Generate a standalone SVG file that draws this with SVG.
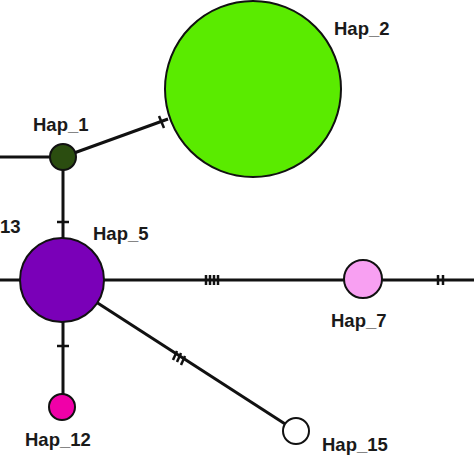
<svg xmlns="http://www.w3.org/2000/svg" width="474" height="474" viewBox="0 0 474 474">
<style>
.edge{stroke:#111;stroke-width:3;fill:none}
.tick{stroke:#111;stroke-width:2.5;fill:none}
.node{stroke:#111;stroke-width:2}
.lbl{font-family:"Liberation Sans",Arial,sans-serif;font-weight:bold;font-size:18.5px;fill:#1a1a1a}
</style>
<rect width="474" height="474" fill="#fff"/>
<g id="connectors">
<line class="edge" x1="0" y1="157" x2="63" y2="157"/>
<line class="edge" x1="63" y1="157" x2="168" y2="119"/>
<line class="edge" x1="63" y1="157" x2="63" y2="280"/>
<line class="edge" x1="0" y1="280" x2="474" y2="280"/>
<line class="edge" x1="63" y1="280" x2="63" y2="407"/>
<line class="edge" x1="62" y1="280" x2="296" y2="431"/>
<line class="tick" x1="159" y1="116" x2="164" y2="128"/>
<line class="tick" x1="57" y1="222" x2="69" y2="222"/>
<line class="tick" x1="57" y1="346" x2="69" y2="346"/>
<line class="tick" x1="206" y1="275" x2="206" y2="285"/>
<line class="tick" x1="210" y1="275" x2="210" y2="285"/>
<line class="tick" x1="214" y1="275" x2="214" y2="285"/>
<line class="tick" x1="218" y1="275" x2="218" y2="285"/>
<line class="tick" x1="438" y1="275" x2="438" y2="285"/>
<line class="tick" x1="443" y1="275" x2="443" y2="285"/>
<line class="tick" x1="177" y1="351" x2="173" y2="360"/>
<line class="tick" x1="181" y1="353" x2="177" y2="362"/>
<line class="tick" x1="185" y1="356" x2="181" y2="365"/>
</g>
<g id="hap_2">
<circle class="node" cx="253" cy="89" r="88" fill="#5aeb00"/>
<text class="lbl" x="334" y="35">Hap_2</text>
</g>
<g id="hap_1">
<circle class="node" cx="63" cy="157" r="13" fill="#2b4d10"/>
<text class="lbl" x="33" y="131">Hap_1</text>
</g>
<g id="hap_13">
<text class="lbl" x="0" y="233">13</text>
</g>
<g id="hap_5">
<circle class="node" cx="62" cy="280" r="42" fill="#7a00b8"/>
<text class="lbl" x="93" y="240">Hap_5</text>
</g>
<g id="hap_7">
<circle class="node" cx="363" cy="279" r="19" fill="#f8a0f2"/>
<text class="lbl" x="331" y="327">Hap_7</text>
</g>
<g id="hap_12">
<circle class="node" cx="62" cy="407" r="13" fill="#f000a8"/>
<text class="lbl" x="25" y="446">Hap_12</text>
</g>
<g id="hap_15">
<circle class="node" cx="296" cy="431" r="13" fill="#fff"/>
<text class="lbl" x="322" y="451">Hap_15</text>
</g>
</svg>
